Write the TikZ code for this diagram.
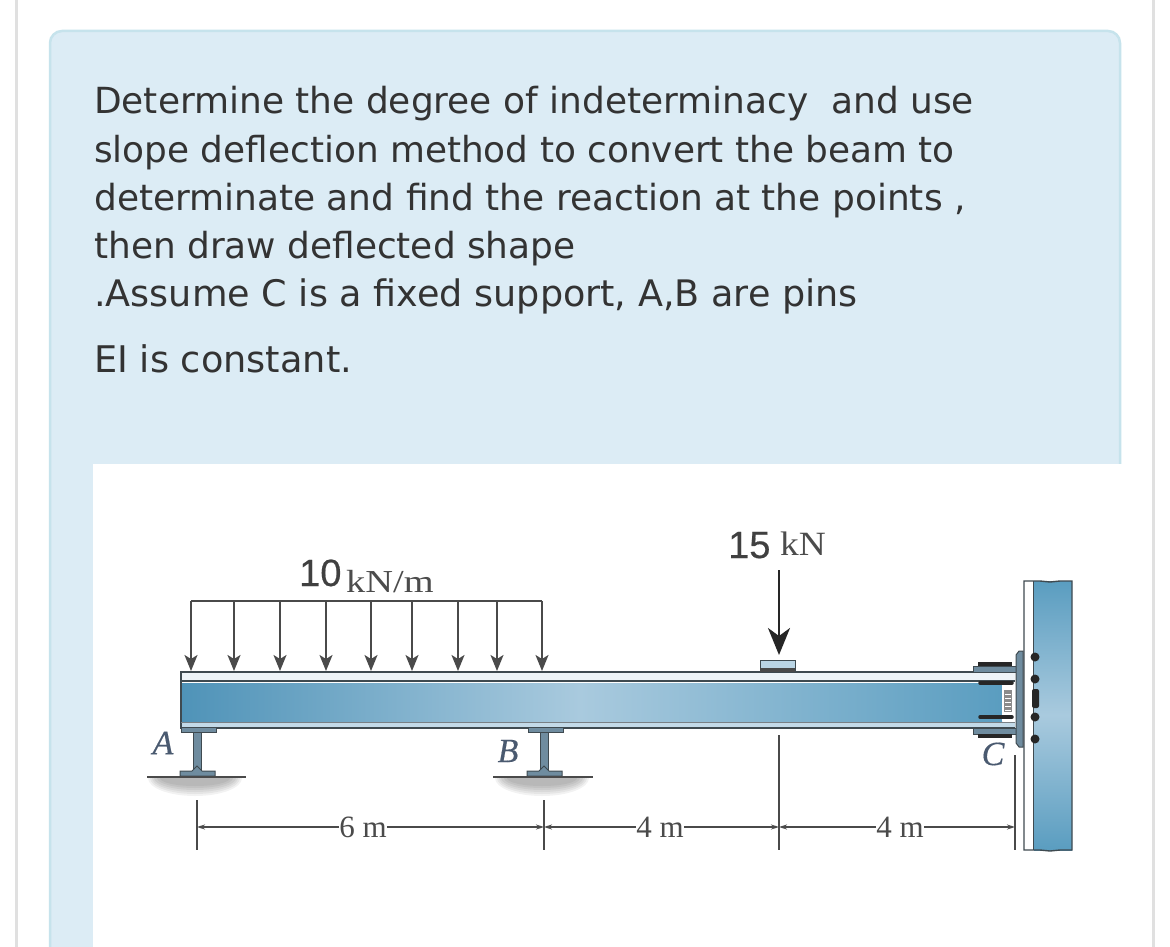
\documentclass[tikz,border=0pt]{standalone}
\usepackage{graphicx}
\usepackage{fontspec}
\setmainfont{DejaVu Sans}
\newfontfamily\figsans[FakeBold=0.5]{Liberation Sans}
\newfontfamily\figserif{Liberation Serif}
\newfontfamily\figseriflab[FakeBold=0.4]{Liberation Serif}
\usetikzlibrary{arrows.meta,calc}
\definecolor{cardfill}{HTML}{DCECF5}
\definecolor{cardedge}{HTML}{C6E3EC}
\definecolor{inktext}{HTML}{333333}
\definecolor{steeldark}{HTML}{4F93B8}
\definecolor{steelmid}{HTML}{A9CADE}
\definecolor{steelend}{HTML}{5A9DC0}
\definecolor{steelline}{HTML}{3F4A50}
\definecolor{figgray}{HTML}{4A4A4A}
\definecolor{supportblue}{HTML}{6F8C9F}
\definecolor{labelink}{HTML}{4A5A70}
\tikzset{
  x=1pt,y=-1pt,
  qtext/.style={anchor=base west,inner sep=0pt,text=inktext,font=\fontsize{#1}{44}\selectfont},
  loadarrow/.style={draw=figgray,line width=1.8pt,-{Stealth[length=16pt,width=13pt,inset=4pt]}},
  bigarrow/.style={draw=black!85,line width=2.4pt,-{Stealth[length=27pt,width=22pt,inset=8pt]}},
  dimline/.style={draw=figgray,line width=1.3pt},
  dimtick/.style={draw=figgray,line width=1.4pt},
  dimtip/.style={-{Stealth[length=8pt,width=5pt]}},
  dimlabel/.style={inner sep=0pt,fill=white,text=figgray,font=\figserif\fontsize{31}{31}\selectfont},
  letterlabel/.style={inner sep=0pt,text=labelink,font=\figseriflab\itshape\fontsize{34}{34}\selectfont},
  bignum/.style={anchor=base west,inner sep=0pt,text=black!75,font=\figsans\fontsize{38}{38}\selectfont},
  smallunit/.style={anchor=base west,inner sep=0pt,text=black!70,font=\figserif\fontsize{#1}{#1}\selectfont},
  steeledge/.style={draw=steelline,line width=1.4pt},
  flange/.style={fill=supportblue,draw=steelline,line width=1pt},
  bolt/.style={circle,fill=black!85,inner sep=0pt,minimum size=#1},
}
\newcommand{\supportat}[4]{% x, left ground, right ground, name
  \begin{scope}
    \clip (#2,778) rectangle (#3,800);
    \foreach \rx/\ry in {47/18,45/16,43/14,41/12,38/10,35/8}{
      \fill[black,opacity=0.05] (#1-2,778) ellipse [x radius=\rx,y radius=\ry];
    }
  \end{scope}
  \fill[supportblue,draw=steelline,line width=.6pt] (#1-4,730) rectangle (#1+4,772);
  \draw[flange] (#1-16,727) -- (#1-16,732) -- (#1+19,732) -- (#1+19,727) -- cycle;
  \draw[flange] (#1-17,776) -- (#1-17,771) -- (#1-5,771) -- (#1,766) -- (#1+5,771) -- (#1+18,771) -- (#1+18,776) -- cycle;
  \coordinate (#4gl) at (#2,777);
  \coordinate (#4gr) at (#3,777);
  \draw[figgray,line width=1.8pt] (#4gl) -- (#4gr);
}
\begin{document}
\begin{tikzpicture}
\useasboundingbox (0,0) rectangle (1170,947);
\fill[white] (0,0) rectangle (1170,947);
% page rules
\fill[black!12] (15,0) rectangle (18,947);
\fill[black!12] (1152,0) rectangle (1155,947);
% card
\begin{scope}
  \clip (0,0) rectangle (1170,947);
  \draw[fill=cardfill,draw=cardedge,line width=2.5pt,rounded corners=12pt] (50,31) rectangle (1120,1000);
\end{scope}
% question text
\node[qtext=35.95] (l1) at (94,114) {Determine the degree of indeterminacy\ \ and use};
\node[qtext=35.85] (l2) at (94,162) {slope deflection method to convert the beam to};
\node[qtext=35.95] (l3) at (94,210) {determinate and find the reaction at the points ,};
\node[qtext=35.9] (l4) at (94,258) {then draw deflected shape};
\node[qtext=36.55] (l5) at (94,306) {.Assume C is a fixed support, A,B are pins};
\node[qtext=36.7] (l6) at (94,372) {EI is constant.};
% image panel
\fill[white] (93,464) rectangle (1152,947);
% column
\shade[top color=steelend,bottom color=steelmid] (1034,581) rectangle (1072,715);
\shade[top color=steelmid,bottom color=steelend] (1034,715) rectangle (1072,850);
\fill[white] (1026,581) rectangle (1034,850);
\draw[steeledge] (1024,850) -- (1024,581) -- (1040,581) -- (1050,582) -- (1060,581) -- (1072,581) -- (1072,850) -- (1060,850) -- (1050,851) -- (1040,850) -- cycle;
\draw[steelline,line width=1pt] (1033.5,581) -- (1033.5,850);
% beam
\shade[left color=steeldark,right color=steelmid] (181,683) rectangle (580,722);
\shade[left color=steelmid,right color=steelend] (580,683) rectangle (1002,722);
\fill[steelmid!70!white] (181,722) rectangle (1015,727);
\fill[white!80!steelmid] (181,673) rectangle (1015,680);
\draw[steeledge,line width=1.9pt] (1015,672) -- (181,672) -- (181,728) -- (1015,728);
\draw[steelline,line width=1.8pt] (181,681) -- (1015,681);
\draw[steelline!70,line width=.8pt] (181,722) -- (1015,722);
% connection at C
\fill[white] (1002,683) rectangle (1016,721);
\fill[black!45] (1004,690) rectangle (1012,712);
\foreach \yy in {694,698,702,706,710}{\draw[white,line width=.8pt] (1005,\yy) -- (1011,\yy);}
\draw[flange] (973,672) -- (973,666) -- (1016,666) -- (1016,672) -- cycle;
\draw[flange] (973,728) -- (973,734) -- (1016,734) -- (1016,728) -- cycle;
\draw[flange] (1016,655) -- (1019,651) -- (1023,651) -- (1023,747) -- (1019,747) -- (1016,743) -- cycle;
\draw[black!85,line width=3.5pt] (978,664) -- (1012,664);
\draw[black!85,line width=3.5pt] (978,736) -- (1012,736);
\draw[black!85,line width=3.5pt,line cap=round] (980,683) -- (1012,683);
\draw[black!85,line width=3.5pt,line cap=round] (980,717) -- (1012,717);
\node[bolt=9pt] (b1) at (1035,657) {};
\node[bolt=9pt] (b2) at (1035,679) {};
\node[bolt=9pt] (b4) at (1035,717) {};
\node[bolt=9pt] (b5) at (1035,739) {};
\fill[black!85,rounded corners=2pt] (1032,689) rectangle (1039,708);
% supports
\supportat{197}{147}{246}{A}
\supportat{544}{493}{593}{B}
% load pad
\draw[flange,fill=steelmid!80!white] (760,672) -- (760,660) -- (795,660) -- (795,672) -- cycle;
\fill[figgray] (760,668) rectangle (795,672);
% distributed load
\coordinate (ql) at (191,601);
\coordinate (qr) at (542,601);
\draw[draw=figgray,line width=1.8pt] (ql) -- (qr);
\foreach \i/\xx in {1/191,2/234,3/280,4/326,5/371,6/412,7/458,8/497,9/542}{
  \coordinate (qt\i) at (\xx,601);
  \coordinate (qb\i) at (\xx,671);
  \draw[loadarrow] (qt\i) -- (qb\i);
}
% load labels
\node[bignum] (n10) at (299,586) {10};
\node[smallunit=32] (u10) at (346,592) {\scalebox{1.2}[1]{kN/m}};
\node[bignum] (n15) at (728,558) {15};
\node[smallunit=34] (u15) at (780,555) {\scalebox{1.1}[1]{kN}};
% point load
\coordinate (ft) at (779,570);
\coordinate (fb) at (779,655);
\draw[bigarrow] (ft) -- (fb);
% dimensions
\coordinate (dA) at (197,827);
\coordinate (dB) at (544,827);
\coordinate (dF) at (779,827);
\coordinate (dC) at (1015,827);
\draw[dimtick] (197,800) -- (197,850);
\draw[dimtick] (544,800) -- (544,850);
\draw[dimtick] (779,735) -- (779,850);
\draw[dimtick] (1015,755) -- (1015,850);
\node[dimlabel] (m6) at (363,827) {6 m};
\node[dimlabel] (m41) at (660,827) {4 m};
\node[dimlabel] (m42) at (900,827) {4 m};
\draw[dimline,dimtip] (m6) -- (dA);
\draw[dimline,dimtip] (m6) -- (dB);
\draw[dimline,dimtip] (m41) -- (dB);
\draw[dimline,dimtip] (m41) -- (dF);
\draw[dimline,dimtip] (m42) -- (dF);
\draw[dimline,dimtip] (m42) -- (dC);
% letters
\node[letterlabel] (la) at (163,743) {A};
\node[letterlabel] (lb) at (508,751) {B};
\node[letterlabel] (lc) at (993,754) {C};
\end{tikzpicture}
\end{document}
